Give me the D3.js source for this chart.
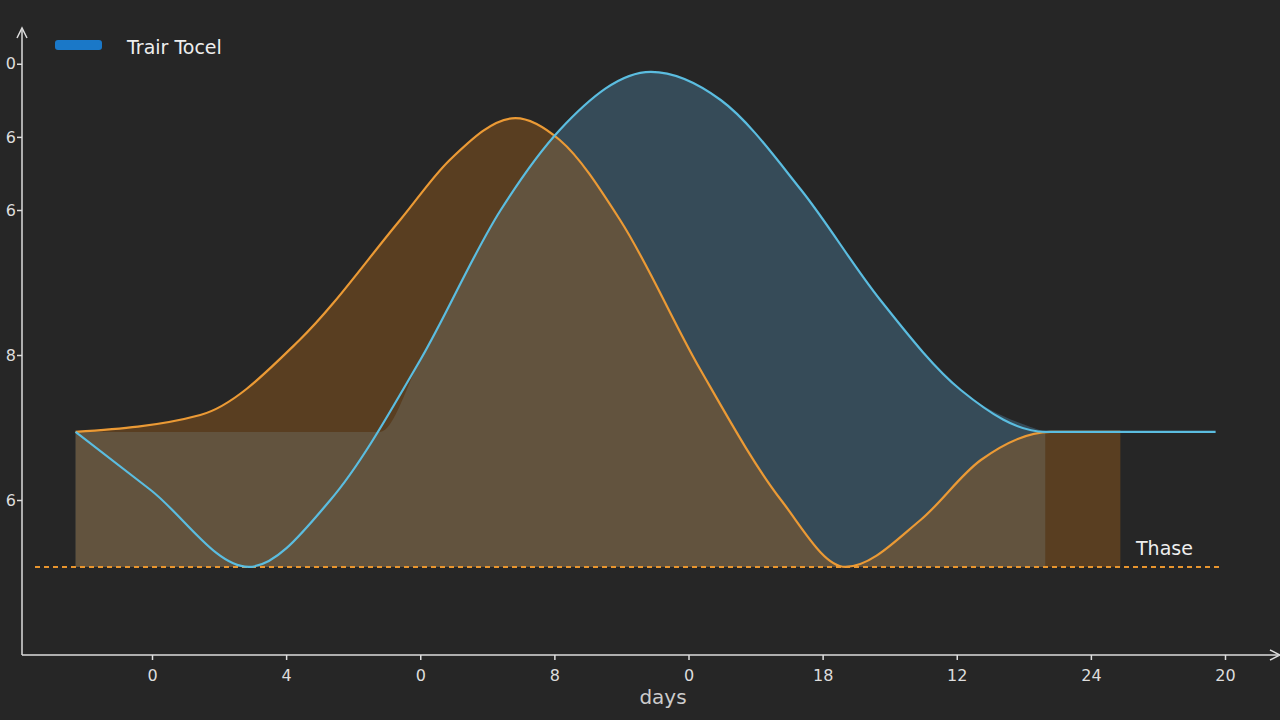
<!DOCTYPE html><html><head><meta charset="utf-8">
<script src="https://cdn.jsdelivr.net/npm/d3@7"></script>
<style>body{margin:0;background:#262626}</style></head><body>
<svg id="c" width="1280" height="720"></svg>
<script>
const xTickLabels=["0","4","0","8","0","18","12","24","20"];
const yTickValues=[94.6,82.9,71.2,48,24.8];
const yTickLabels=["0","6","6","8","6"];
const orange=[[-0.57,35.7],[0.36,38.4],[1.10,50.4],[1.85,69.6],[2.22,79.2],[2.71,85.9],[3.04,82.4],[3.49,69.6],[4.09,45.6],[4.69,24.8],[5.17,14.1],[5.73,21.6],[6.18,31.2],[6.70,35.7],[7.22,35.7]];
const blue=[[-0.57,35.7],[-0.01,26.4],[0.72,14.1],[1.33,24.8],[2.0,47.2],[2.60,71.2],[3.04,84],[3.72,93.3],[4.24,88.8],[4.84,74.4],[5.43,56.8],[6.03,42.4],[6.66,35.7],[7.93,35.7]];
const plateau=[[-0.57,35.7],[1.7,35.7]];
const baseline=14.1;
const svg=d3.select("#c");
const x=d3.scaleLinear().domain([0,8]).range([152,1225]);
const y=d3.scaleLinear().domain([0,100]).range([655,30]);
svg.append("rect").attr("width",1280).attr("height",720).attr("fill","#262626");
const cv=d3.curveMonotoneX;
const area=d=>d3.area().x(p=>x(p[0])).y0(y(baseline)).y1(p=>y(p[1])).curve(cv)(d);
const line=d=>d3.line().x(p=>x(p[0])).y(p=>y(p[1])).curve(cv)(d);
svg.append("path").attr("d",area(plateau.concat(blue.slice(4,13)))).attr("fill","#46708a").attr("opacity",0.5);
svg.append("path").attr("d",area(orange)).attr("fill","#a0601a").attr("opacity",0.42);
svg.append("line").attr("x1",35).attr("x2",1220).attr("y1",y(baseline)).attr("y2",y(baseline)).attr("stroke","#e8952e").attr("stroke-width",2).attr("stroke-dasharray","5,4");
svg.append("path").attr("d",line(orange)).attr("fill","none").attr("stroke","#eb9a35").attr("stroke-width",2.2);
svg.append("path").attr("d",line(blue)).attr("fill","none").attr("stroke","#5bbde0").attr("stroke-width",2.2);
const xa=svg.append("g").attr("transform","translate(0,655)").call(d3.axisBottom(x).tickValues(d3.range(9)).tickFormat(i=>xTickLabels[i]).tickSize(5));
xa.select(".domain").attr("d","M22,0H1278");
const ya=svg.append("g").attr("transform","translate(22,0)").call(d3.axisLeft(y).tickValues(yTickValues).tickFormat((d,i)=>yTickLabels[i]).tickSize(5));
ya.select(".domain").attr("d","M0,655V30");
svg.selectAll(".tick text").attr("fill","#ddd").style("font-family","DejaVu Sans").style("font-size","16px");
ya.selectAll(".tick text").attr("x",-6);
svg.selectAll(".domain,.tick line").attr("stroke","#ddd").attr("stroke-width",1.5);
xa.selectAll(".tick text").attr("dy","1.1em");
svg.append("path").attr("d","M17,38 L22,28 L27,38").attr("fill","none").attr("stroke","#ddd").attr("stroke-width",1.5);
svg.append("path").attr("d","M1270,650 L1280,655 L1270,660").attr("fill","none").attr("stroke","#ddd").attr("stroke-width",1.5);
svg.append("text").attr("x",663).attr("y",704).attr("text-anchor","middle").attr("fill","#ccc").style("font-family","DejaVu Sans").style("font-size","20px").text("days");
svg.append("rect").attr("x",55).attr("y",40).attr("width",47).attr("height",10).attr("rx",3).attr("fill","#1a78c8");
svg.append("text").attr("x",127).attr("y",54).attr("fill","#eee").style("font-family","DejaVu Sans").style("font-size","19px").text("Trair Tocel");
svg.append("text").attr("x",1136).attr("y",555).attr("fill","#eee").style("font-family","DejaVu Sans").style("font-size","19px").text("Thase");
</script></body></html>
